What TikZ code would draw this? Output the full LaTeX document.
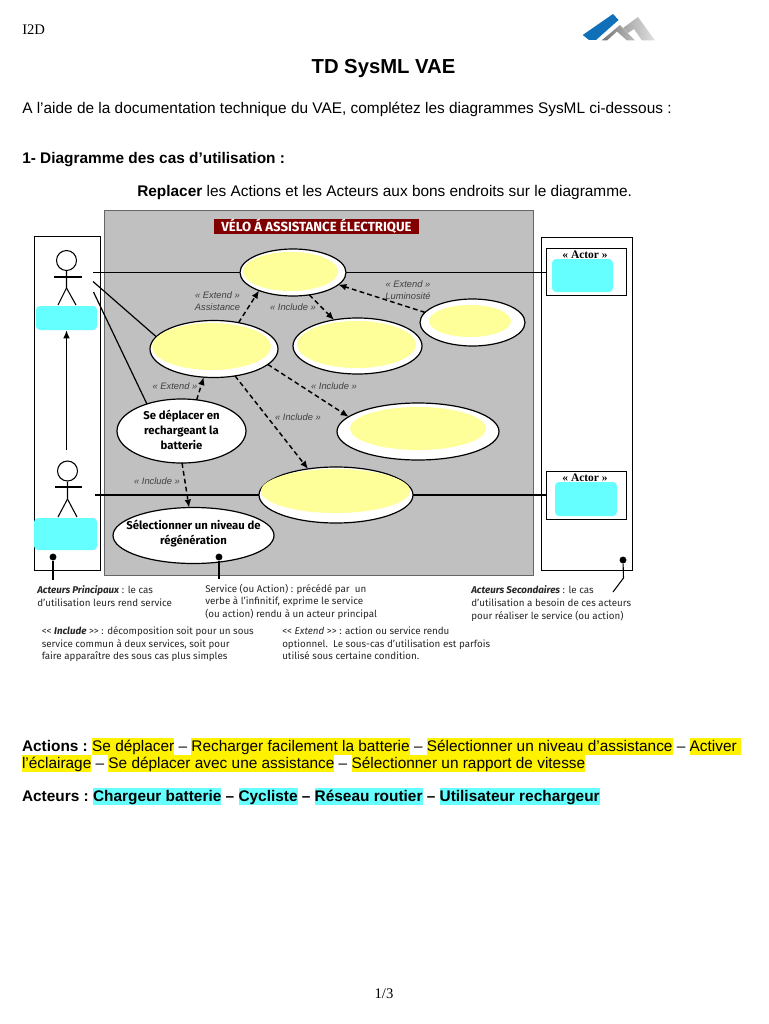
\documentclass[tikz,border=0pt]{standalone}
\usepackage{fontspec}
\usepackage{xcolor}
\usepackage{tikz}
\setmainfont{Liberation Sans}
\newfontfamily\timesfont{Liberation Serif}
\newfontfamily\handfont{Fira Sans}
\usetikzlibrary{positioning,arrows.meta,shapes.geometric,calc}
\definecolor{caseyellow}{HTML}{FFFF99}
\definecolor{actorcyan}{HTML}{66FFFF}
\definecolor{panelgray}{HTML}{C0C0C0}
\definecolor{bannerred}{HTML}{800000}
\definecolor{logoblue}{HTML}{0F6FB8}
\newcommand{\sepdash}{\ –\ \mbox{}}

\begin{document}
\begin{tikzpicture}[
  x=0.75pt, y=-0.75pt,
  usecase/.style 2 args={draw=black, line width=0.9pt, fill=white, ellipse, inner sep=0pt, outer sep=0pt, minimum width=#1*1.5pt, minimum height=#2*1.5pt},
  caseinner/.style 2 args={fill=caseyellow, ellipse, inner sep=0pt, minimum width=#1*1.5pt, minimum height=#2*1.5pt},
  actorfill/.style 2 args={fill=actorcyan, rounded corners=3pt, inner sep=0pt, minimum width=#1*0.75pt, minimum height=#2*0.75pt},
  actorbox/.style={draw=black, fill=white, line width=0.8pt, inner sep=0pt, outer sep=0pt, minimum width=79.5*0.75pt, minimum height=47.5*0.75pt},
  solidarr/.style={draw=black, line width=0.9pt},
  incl/.style={-{Latex[length=6pt,width=5pt]}, line width=1.1pt, dash pattern=on 3.6pt off 2.4pt},
  stereo/.style={font=\fontsize{7}{8}\selectfont\itshape, text=black!75, inner sep=0pt, align=center},
  casetext/.style={font=\handfont\fontsize{8.5}{11.2}\selectfont\bfseries, align=center, inner sep=0pt},
  note/.style={font=\handfont\fontsize{7.35}{9.5}\selectfont, align=left, anchor=north west, inner sep=0pt, text=black!85},
  bodytext/.style={font=\fontsize{11.55}{13}\selectfont, inner sep=0pt, anchor=base west},
  word/.style={font=\fontsize{11.55}{13}\selectfont, inner sep=0pt, outer sep=0pt, text height=9.6pt, text depth=3pt},
  wordbold/.style={word, font=\fontsize{11.55}{13}\selectfont\bfseries},
  hlact/.style={word, fill=yellow},
  hlactor/.style={wordbold, fill=actorcyan},
  dotmark/.style={circle, fill=black, inner sep=0pt, minimum size=5.2pt},
  actortag/.style={font=\timesfont\fontsize{8.6}{9}\selectfont\bfseries, inner sep=0pt},
  stick/.style={draw=black, line width=0.8pt}
]
\useasboundingbox (0,0) rectangle (768,1024);

% header
\node[font=\timesfont\fontsize{11}{12}\selectfont, anchor=west, inner sep=0pt] (school) at (22,30) {I2D};
\fill[logoblue] (582.7,35) -- (613,14) -- (618.5,20) -- (596,40) -- (589,40) -- cycle;
\shade[left color=black!55, right color=black!25] (601.5,40.5) -- (620,25) -- (635,40.5) -- (627,40.5) -- (617,31.5) -- (607,40.5) -- cycle;
\shade[left color=black!35, right color=black!12] (623,28) -- (638,17) -- (655,40.5) -- (642,40.5) -- (634,29) -- (628,33) -- cycle;
\node[font=\fontsize{15.2}{18}\selectfont\bfseries, inner sep=0pt] (title) at (383.5,68.5) {TD SysML VAE};
\node[bodytext] (intro) at (22,113.5) {A l’aide de la documentation technique du VAE, complétez les diagrammes SysML ci-dessous :};
\node[bodytext, font=\fontsize{11.55}{13}\selectfont\bfseries] (part) at (22,163) {1- Diagramme des cas d’utilisation :};
\node[bodytext] (replace) at (137,196) {\textbf{Replacer} les Actions et les Acteurs aux bons endroits sur le diagramme.};

% panels
\draw[draw=black!60, line width=0.7pt, fill=panelgray] (104.5,210) rectangle (533,575);
\draw[draw=black, line width=0.7pt] (34,236.5) rectangle (100,570);
\draw[draw=black, line width=0.7pt] (541.5,237) rectangle (632,570);
\node[fill=bannerred, text=white, font=\handfont\fontsize{9.9}{10}\selectfont\bfseries, inner sep=0pt, minimum width=205*0.75pt, minimum height=14.5*0.75pt] (banner) at (316.5,226.5) {VÉLO Á ASSISTANCE ÉLECTRIQUE};

% cas d'utilisation
\node[usecase={53}{23.5}] (casetop) at (293,272.5) {};
\node[caseinner={47.5}{19.5}] (casetopin) at (290.5,271.5) {};
\node[usecase={64}{28.5}] (caseleft) at (214,349) {};
\node[caseinner={59.5}{23.5}] (caseleftin) at (211.5,346.5) {};
\node[usecase={64.5}{28}] (casemid) at (357.5,346) {};
\node[caseinner={59.5}{23.5}] (casemidin) at (356.5,344.5) {};
\node[usecase={52.5}{23.5}] (caselight) at (472.5,322.5) {};
\node[caseinner={41}{16}] (caselightin) at (470,321) {};
\node[usecase={81}{28.5}] (casespeed) at (418,431.5) {};
\node[caseinner={68}{21.5}] (casespeedin) at (418,428.5) {};
\node[usecase={77}{28}] (casecharge) at (336,495) {};
\node[caseinner={74.5}{22}] (casechargein) at (335.5,491) {};
\node[usecase={64.5}{32}] (caseregen) at (181.5,431) {};
\node[casetext] (caseregentxt) at (181.5,430) {Se déplacer en\\rechargeant la\\batterie};
\node[usecase={80.5}{28}] (caselevel) at (193.5,535.5) {};
\node[casetext] (caseleveltxt) at (193.5,533.5) {Sélectionner un niveau de\\régénération};

% acteurs principaux
\node[circle, stick, inner sep=0pt, minimum size=20*0.75pt] (headone) at (66.5,260.5) {};
\coordinate (hipone) at (66.5,288);
\coordinate (armoneL) at (54,277);
\coordinate (armoneR) at (82,277);
\coordinate (legoneL) at (58,305);
\coordinate (legoneR) at (76,305);
\draw[stick] (headone) -- (hipone) -- (legoneL);
\draw[stick] (hipone) -- (legoneR);
\draw[stick] (armoneL) -- (armoneR);
\node[actorfill={61}{24}] (actorone) at (66.5,318) {};
\node[circle, stick, inner sep=0pt, minimum size=20*0.75pt] (headtwo) at (67.5,471) {};
\coordinate (hiptwo) at (67.5,499);
\coordinate (armtwoL) at (55,487);
\coordinate (armtwoR) at (82,487);
\coordinate (legtwoL) at (58,517);
\coordinate (legtwoR) at (77,517);
\draw[stick] (headtwo) -- (hiptwo) -- (legtwoL);
\draw[stick] (hiptwo) -- (legtwoR);
\draw[stick] (armtwoL) -- (armtwoR);
\node[actorfill={63}{32}] (actortwo) at (65.5,534) {};
\coordinate (inherit) at (66.5,450);
\draw[-{Latex[length=6pt,width=5pt]}, line width=1pt] (inherit) -- (actorone.south -| inherit);

% acteurs secondaires
\node[actorbox] (boxone) at (586.5,272) {};
\node[actortag] (stereoone) at (585,254.5) {« Actor »};
\node[actorfill={61}{33}] (actorthree) at (582.5,275.5) {};
\node[actorbox] (boxtwo) at (586.5,495.5) {};
\node[actortag] (stereotwo) at (585,477.5) {« Actor »};
\node[actorfill={62}{34}] (actorfour) at (586,499) {};

% liaisons acteurs
\coordinate (linkA) at (93,272.5);
\coordinate (linkB) at (93,281.5);
\coordinate (linkC) at (93.5,292);
\coordinate (linkD) at (95,495);
\draw[solidarr] (linkA) -- (casetop.west);
\draw[solidarr] (linkB) -- (caseleft.168);
\draw[solidarr] (linkC) -- (caseregen.142);
\draw[solidarr] (linkD) -- (casecharge.west);
\draw[solidarr] (casetop.east) -- (boxone.west |- casetop.east);
\draw[solidarr] (casecharge.east) -- (boxtwo.west |- casecharge.east);

% include / extend
\draw[incl] (caseleft.47) -- (casetop.208);
\draw[incl] (casetop.306) -- (casemid.132);
\draw[incl] (caselight.168) -- (casetop.345);
\draw[incl] (caseregen.64) -- (caseleft.250);
\draw[incl] (caseleft.344) -- (casespeed.168);
\draw[incl] (caseleft.308) -- (casecharge.137);
\draw[incl] (caseregen.271) -- (caselevel.99);

\node[stereo] (extassist) at (217.5,301) {« Extend »\\[0.8pt]Assistance};
\node[stereo] (inctop) at (293,307) {« Include »};
\node[stereo] (extlight) at (408,290.5) {« Extend »\\[0.8pt]Luminosité};
\node[stereo] (extregen) at (175,386) {« Extend »};
\node[stereo] (incspeed) at (334,386) {« Include »};
\node[stereo] (inccharge) at (298,417) {« Include »};
\node[stereo] (inclevel) at (157,481.5) {« Include »};

% renvois
\node[dotmark] (dotone) at (53,557) {};
\coordinate (endone) at (53,580);
\draw[line width=0.8pt] (dotone) -- (endone);
\node[dotmark] (dottwo) at (219,557) {};
\coordinate (endtwo) at (219,579);
\draw[line width=0.8pt] (dottwo) -- (endtwo);
\node[dotmark] (dotthree) at (623,560) {};
\coordinate (bendthree) at (623.5,578);
\coordinate (endthree) at (613,592);
\draw[line width=0.8pt] (dotthree) -- (bendthree) -- (endthree);

\node[note] (noteprim) at (37,585.5) {\textbf{\textit{Acteurs Principaux}} : le cas\\d’utilisation leurs rend service};
\node[note] (noteserv) at (205,583.5) {Service (ou Action) : précédé par\ \ un\\verbe à l’infinitif, exprime le service\\(ou action) rendu à un acteur principal};
\node[note] (notesec) at (471,585.5) {\textbf{\textit{Acteurs Secondaires}} : le cas\\d’utilisation a besoin de ces acteurs\\pour réaliser le service (ou action)};
\node[note] (noteincl) at (41.5,626.5) {<< \textbf{\textit{Include}} >> : décomposition soit pour un sous\\service commun à deux services, soit pour\\faire apparaître des sous cas plus simples};
\node[note] (noteext) at (282,626.5) {<< \textit{Extend} >> : action ou service rendu\\optionnel.\ \ Le sous-cas d’utilisation est parfois\\utilisé sous certaine condition.};

% listes
\node[wordbold, anchor=base west] (actlabel) at (22,751) {Actions :\ \mbox{}};
\node[hlact, base right=0pt of actlabel] (actA) {Se déplacer};
\node[word, base right=0pt of actA] (sepA) {\sepdash};
\node[hlact, base right=0pt of sepA] (actB) {Recharger facilement la batterie};
\node[word, base right=0pt of actB] (sepB) {\sepdash};
\node[hlact, base right=0pt of sepB] (actC) {Sélectionner un niveau d’assistance};
\node[word, base right=0pt of actC] (sepC) {\sepdash};
\node[hlact, base right=0pt of sepC] (actD) {Activer\ \mbox{}};
\node[hlact, anchor=base west] (actE) at (22,768) {l’éclairage};
\node[word, base right=0pt of actE] (sepD) {\sepdash};
\node[hlact, base right=0pt of sepD] (actF) {Se déplacer avec une assistance};
\node[word, base right=0pt of actF] (sepE) {\sepdash};
\node[hlact, base right=0pt of sepE] (actG) {Sélectionner un rapport de vitesse};

\node[wordbold, anchor=base west] (actorlabel) at (22,801) {Acteurs :\ \mbox{}};
\node[hlactor, base right=0pt of actorlabel] (nameA) {Chargeur batterie};
\node[wordbold, base right=0pt of nameA] (sepF) {\sepdash};
\node[hlactor, base right=0pt of sepF] (nameB) {Cycliste};
\node[wordbold, base right=0pt of nameB] (sepG) {\sepdash};
\node[hlactor, base right=0pt of sepG] (nameC) {Réseau routier};
\node[wordbold, base right=0pt of nameC] (sepH) {\sepdash};
\node[hlactor, base right=0pt of sepH] (nameD) {Utilisateur rechargeur};

\node[font=\timesfont\fontsize{11}{12}\selectfont, inner sep=0pt] (pagenum) at (384,994) {1/3};
\end{tikzpicture}
\end{document}
